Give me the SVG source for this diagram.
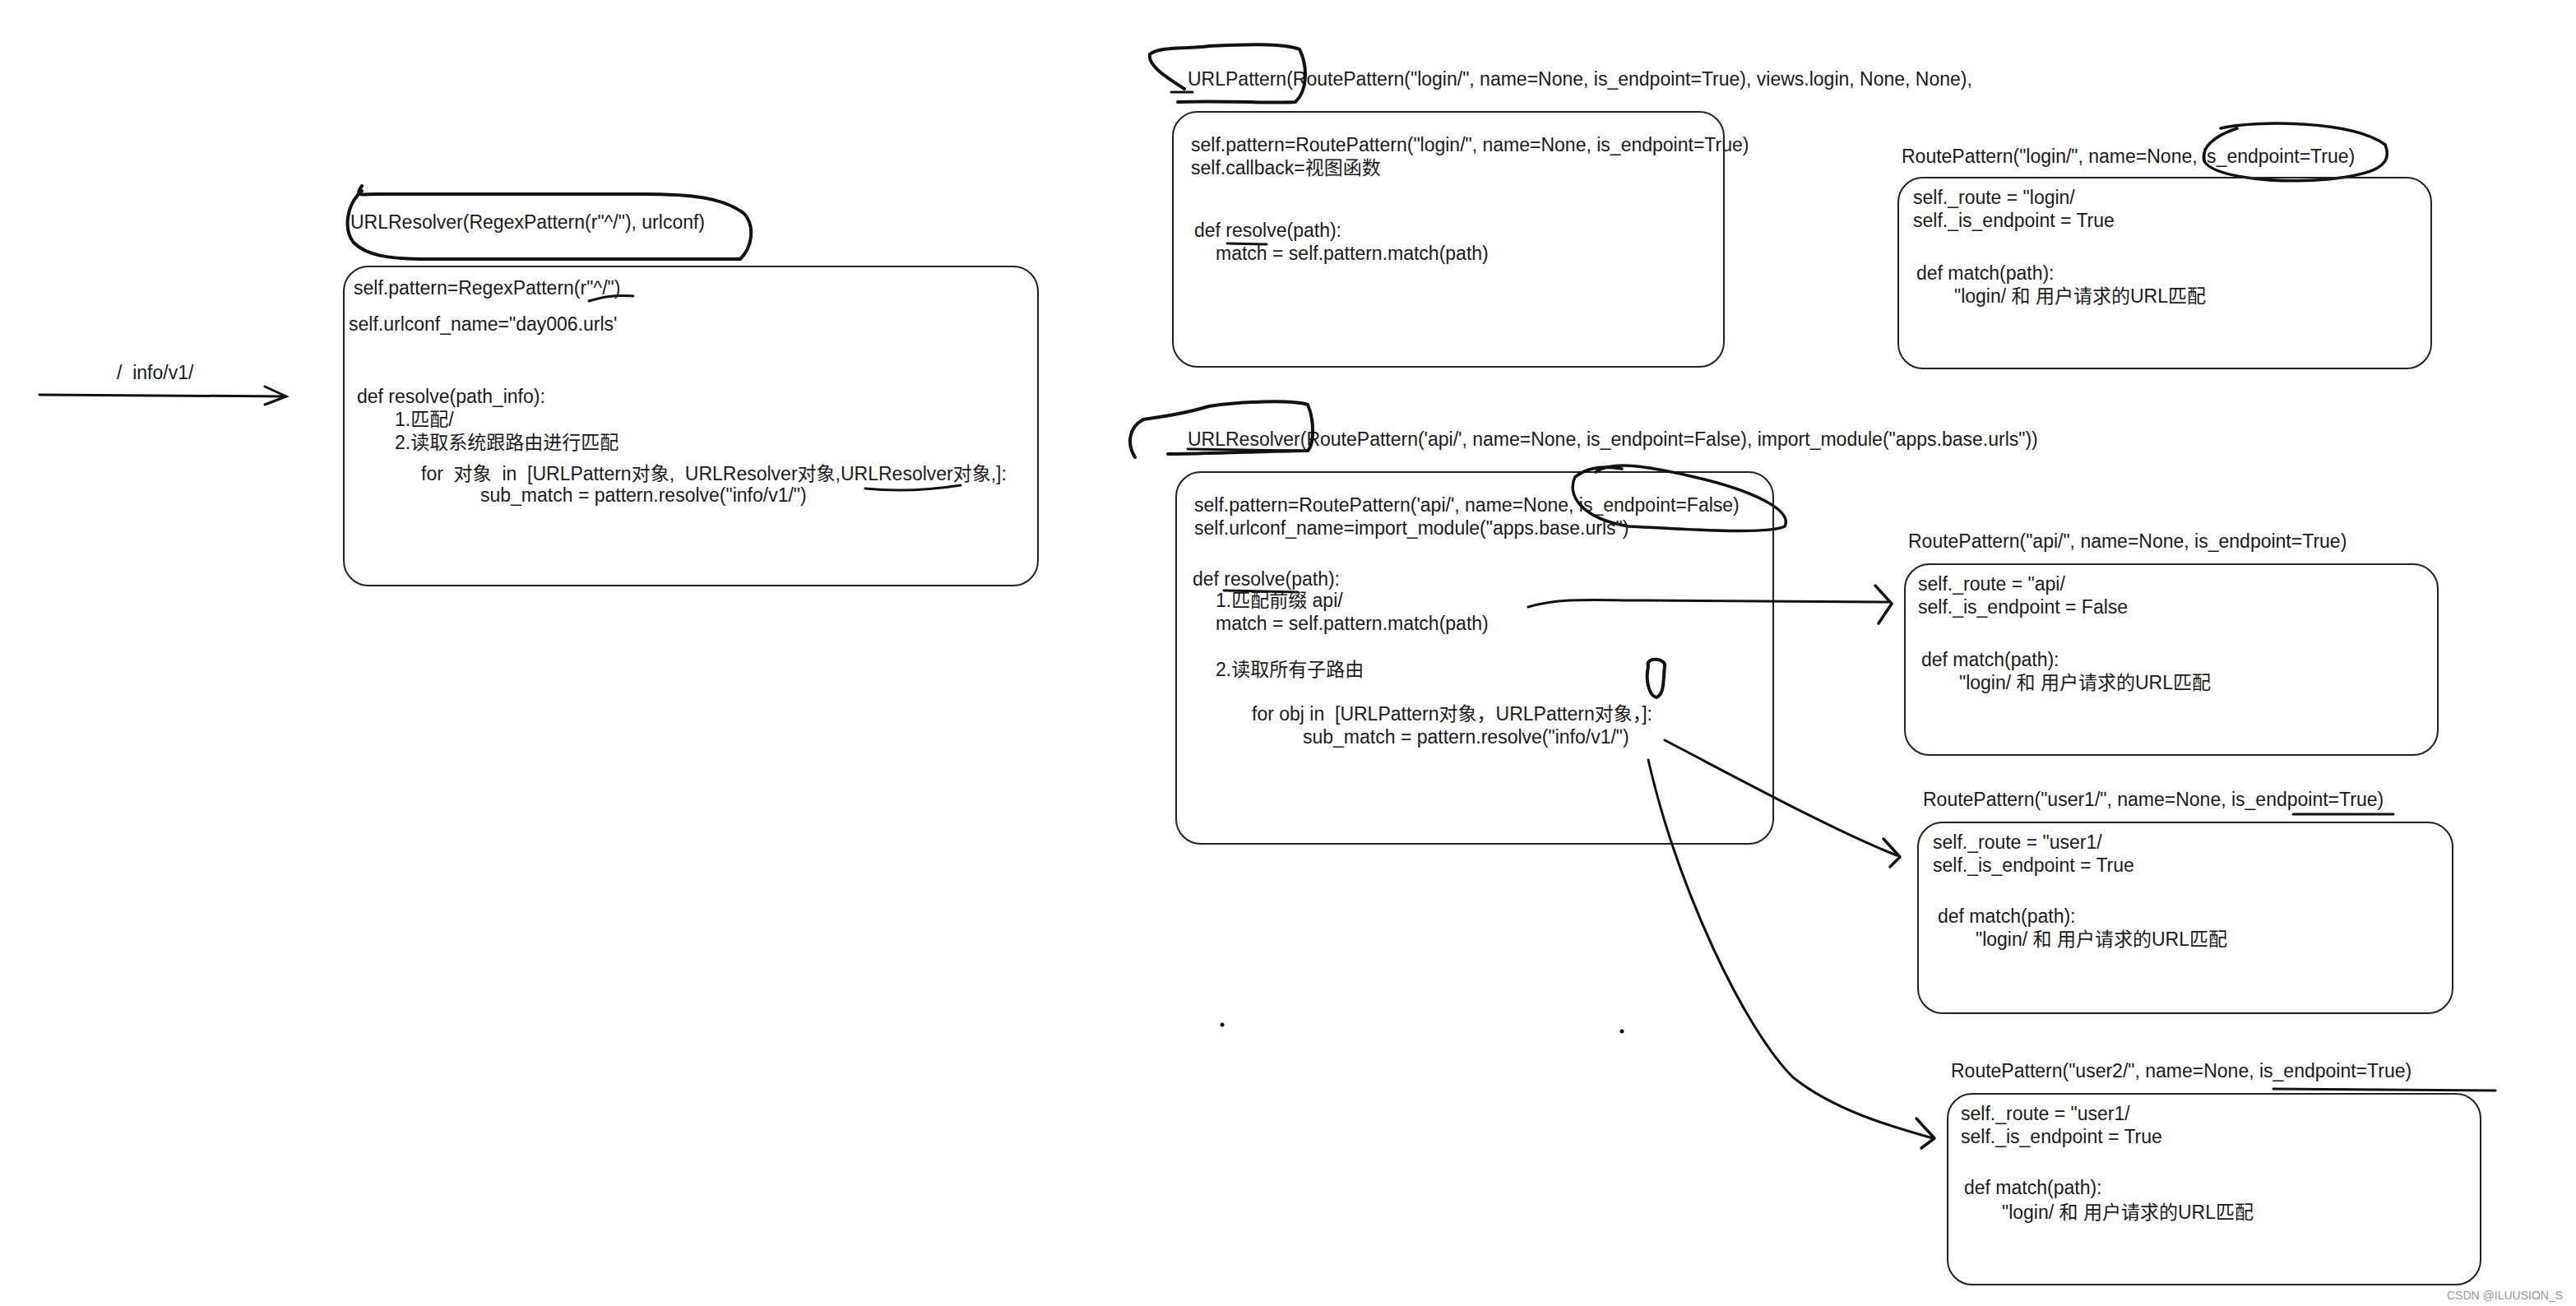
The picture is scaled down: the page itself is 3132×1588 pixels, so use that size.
<svg xmlns="http://www.w3.org/2000/svg" width="3132" height="1588" viewBox="0 0 3132 1588" xml:space="preserve">
<style>
text{font-family:"Liberation Sans","Noto Sans CJK SC",sans-serif;font-size:23px;fill:#1a1a1a;dominant-baseline:middle;white-space:pre}
.box{fill:none;stroke:#222;stroke-width:2}
.ink{fill:none;stroke:#111;stroke-width:4;stroke-linecap:round;stroke-linejoin:round}
.con{fill:none;stroke:#111;stroke-width:3;stroke-linecap:round}
.wm{font-size:14px;fill:#999}
</style>
<rect width="3132" height="1588" fill="#fff"/>
<g id="input">
<text x="142" y="455">/  info/v1/</text>
</g>
<g id="root-resolver">
<text x="426" y="272">URLResolver(RegexPattern(r"^/"), urlconf)</text>
<path class="ink" d="M440 232 C420 250 418 280 430 295 C445 310 470 315 520 315 L900 315 C915 300 918 275 905 260 C880 240 840 236 780 236 L460 236 C440 236 430 240 440 226"/>
<rect class="box" x="418" y="324" width="844" height="388" rx="30"/>
<text x="430" y="352">self.pattern=RegexPattern(r"^/")</text>
<path class="ink" d="M716 366 C730 362 745 358 770 360" style="stroke-width:3"/>
<text x="424" y="396">self.urlconf_name="day006.urls'</text>
<text x="434" y="484">def resolve(path_info):</text>
<text x="480" y="512">1.匹配/</text>
<text x="480" y="540">2.读取系统跟路由进行匹配</text>
<text x="512" y="578">for  对象  in  [URLPattern对象,  URLResolver对象,URLResolver对象,]:</text>
<path class="ink" d="M1052 594 C1090 598 1130 596 1168 590" style="stroke-width:3"/>
<text x="584" y="604">sub_match = pattern.resolve("info/v1/")</text>
</g>
<g id="url-pattern">
<text x="1444" y="98">URLPattern(RoutePattern("login/", name=None, is_endpoint=True), views.login, None, None),</text>
<path class="ink" d="M1440 108 C1420 95 1395 80 1398 66 C1410 56 1440 60 1470 56 C1510 54 1560 52 1580 60 C1590 80 1590 110 1575 124 C1550 126 1490 122 1432 124"/>
<path class="ink" d="M1424 112 L1450 112" style="stroke-width:3"/>
<rect class="box" x="1426" y="136" width="670" height="310" rx="30"/>
<text x="1448" y="178">self.pattern=RoutePattern("login/", name=None, is_endpoint=True)</text>
<text x="1448" y="206">self.callback=视图函数</text>
<text x="1452" y="282">def resolve(path):</text>
<path class="ink" d="M1492 296 L1540 297" style="stroke-width:3"/>
<text x="1478" y="310">match = self.pattern.match(path)</text>
</g>
<g id="route-login">
<text x="2312" y="192">RoutePattern("login/", name=None, is_endpoint=True)</text>
<path class="ink" d="M2700 156 C2740 146 2860 146 2900 176 C2910 200 2890 212 2830 218 C2760 224 2690 214 2680 196 C2676 180 2690 166 2720 156" style="stroke-width:3.5"/>
<rect class="box" x="2308" y="216" width="648" height="232" rx="30"/>
<text x="2326" y="242">self._route = "login/</text>
<text x="2326" y="270">self._is_endpoint = True</text>
<text x="2330" y="334">def match(path):</text>
<text x="2376" y="362">"login/ 和 用户请求的URL匹配</text>
</g>
<g id="url-resolver-api">
<text x="1444" y="536">URLResolver(RoutePattern('api/', name=None, is_endpoint=False), import_module("apps.base.urls"))</text>
<path class="ink" d="M1380 556 C1370 540 1372 520 1390 510 C1420 506 1450 500 1470 494 C1510 488 1570 486 1590 492 C1598 510 1598 540 1590 548 C1560 548 1460 552 1420 552"/>
<path class="ink" d="M1444 546 L1578 548" style="stroke-width:3"/>
<rect class="box" x="1430" y="574" width="726" height="452" rx="30"/>
<text x="1452" y="616">self.pattern=RoutePattern('api/', name=None, is_endpoint=False)</text>
<path class="ink" d="M1940 574 C1960 560 2000 566 2060 580 C2130 596 2180 620 2170 640 C2150 650 2060 644 1980 640 C1920 630 1905 600 1915 580 C1930 568 1950 566 1972 570" style="stroke-width:3.5"/>
<text x="1452" y="644">self.urlconf_name=import_module("apps.base.urls")</text>
<text x="1450" y="706">def resolve(path):</text>
<path class="ink" d="M1488 718 L1578 720" style="stroke-width:3"/>
<text x="1478" y="732">1.匹配前缀 api/</text>
<text x="1478" y="760">match = self.pattern.match(path)</text>
<text x="1478" y="816">2.读取所有子路由</text>
<path class="ink" d="M2004 810 C2000 830 2006 846 2014 848 C2024 844 2022 826 2024 810 C2026 800 2000 798 2004 810"/>
<text x="1522" y="870">for obj in  [URLPattern对象，URLPattern对象，]:</text>
<text x="1584" y="898">sub_match = pattern.resolve("info/v1/")</text>
</g>
<g id="route-api">
<text x="2320" y="660">RoutePattern("api/", name=None, is_endpoint=True)</text>
<rect class="box" x="2316" y="686" width="648" height="232" rx="30"/>
<text x="2332" y="712">self._route = "api/</text>
<text x="2332" y="740">self._is_endpoint = False</text>
<text x="2336" y="804">def match(path):</text>
<text x="2382" y="832">"login/ 和 用户请求的URL匹配</text>
</g>
<g id="route-user1">
<text x="2338" y="974">RoutePattern("user1/", name=None, is_endpoint=True)</text>
<path class="ink" d="M2788 990 L2910 990" style="stroke-width:3"/>
<rect class="box" x="2332" y="1000" width="650" height="232" rx="30"/>
<text x="2350" y="1026">self._route = "user1/</text>
<text x="2350" y="1054">self._is_endpoint = True</text>
<text x="2356" y="1116">def match(path):</text>
<text x="2402" y="1144">"login/ 和 用户请求的URL匹配</text>
</g>
<g id="route-user2">
<text x="2372" y="1304">RoutePattern("user2/", name=None, is_endpoint=True)</text>
<path class="ink" d="M2764 1324 L3034 1326" style="stroke-width:3"/>
<rect class="box" x="2368" y="1330" width="648" height="232" rx="30"/>
<text x="2384" y="1356">self._route = "user1/</text>
<text x="2384" y="1384">self._is_endpoint = True</text>
<text x="2388" y="1446">def match(path):</text>
<text x="2434" y="1476">"login/ 和 用户请求的URL匹配</text>
</g>
<g id="connectors">
<path class="con" d="M48 480 L348 482"/>
<path class="con" d="M322 470 L348 482 L322 492"/>
<path class="con" d="M1858 738 C1900 726 1940 730 2000 730 L2296 732"/>
<path class="ink" d="M2280 712 L2300 734 L2284 758" style="stroke-width:3.5"/>
<path class="con" d="M2024 900 C2120 950 2230 1010 2306 1040"/>
<path class="ink" d="M2290 1020 L2310 1042 L2298 1054" style="stroke-width:3.5"/>
<path class="con" d="M2004 924 C2040 1080 2120 1250 2180 1310 C2230 1350 2300 1370 2350 1384"/>
<path class="ink" d="M2330 1360 L2352 1384 L2336 1396" style="stroke-width:3.5"/>
</g>
<circle cx="1486" cy="1246" r="2.5" fill="#111"/>
<circle cx="1972" cy="1254" r="2.5" fill="#111"/>
<text class="wm" x="2975" y="1576">CSDN @ILUUSION_S</text>
</svg>
